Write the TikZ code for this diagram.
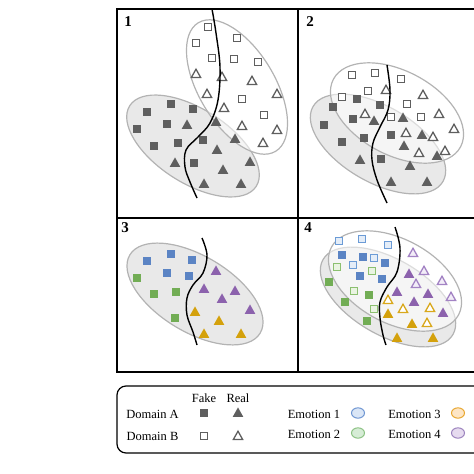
\documentclass[tikz,border=0pt]{standalone}
\usepackage{fontspec}
\setmainfont{Liberation Serif}
\definecolor{mgray}{HTML}{5F5F5F}
\definecolor{ellgray}{HTML}{E9E9E9}
\definecolor{ellline}{HTML}{B3B3B3}
\definecolor{blueF}{HTML}{5B84C4}
\definecolor{blueO}{HTML}{6B9BD6}
\definecolor{blueL}{HTML}{E4EDF8}
\definecolor{greenF}{HTML}{72AD55}
\definecolor{greenO}{HTML}{8CC070}
\definecolor{greenL}{HTML}{EAF4E2}
\definecolor{purpleF}{HTML}{8C62AD}
\definecolor{purpleO}{HTML}{A383C4}
\definecolor{purpleL}{HTML}{F3EDF8}
\definecolor{orangeF}{HTML}{D4A10C}
\definecolor{orangeO}{HTML}{D9A81C}
\definecolor{eoneF}{HTML}{DAE6F6}
\definecolor{eoneD}{HTML}{6F96D2}
\definecolor{etwoF}{HTML}{D6ECD6}
\definecolor{etwoD}{HTML}{8CC283}
\definecolor{ethreeF}{HTML}{FDE5C5}
\definecolor{ethreeD}{HTML}{E8A730}
\definecolor{efourF}{HTML}{E6DBEF}
\definecolor{efourD}{HTML}{9C83BE}
\newcommand\MySq[3]{\path[#3] (#1-4,#2-4) rectangle (#1+4,#2+4);}
\newcommand\MyOSq[3]{\path[#3] (#1-3.5,#2-3.5) rectangle (#1+3.5,#2+3.5);}
\newcommand\MyTr[3]{\path[#3] (#1,#2-5.6) -- (#1+5.3,#2+3.9) -- (#1-5.3,#2+3.9) -- cycle;}
\newcommand\MyOTr[3]{\path[#3,line join=miter] (#1,#2-4.8) -- (#1+4.6,#2+3.4) -- (#1-4.6,#2+3.4) -- cycle;}
\begin{document}
\begin{tikzpicture}[x=1pt,y=-1pt,
  grid/.style={line width=1.5pt,black},
  ellA/.style={fill=ellgray,draw=ellline,line width=1.2pt},
  ellB/.style={fill=white,fill opacity=0.55,draw=ellline,line width=1.2pt},
  sep/.style={line width=1.4pt,black},
  lab/.style={font=\bfseries\fontsize{15}{15}\selectfont,inner sep=0pt},
  txt/.style={font=\fontsize{12.5}{13}\selectfont,inner sep=0pt},
  fa/.style={fill=mgray},
  oa/.style={draw=mgray,fill=white,line width=1.3pt}]
\useasboundingbox (0,0) rectangle (474,474);
\clip (0,0) rectangle (474,474);
% ---------- grid ----------
\draw[grid] (117,9) rectangle (480,372);
\draw[grid] (298,9) -- (298,372);
\draw[grid] (117,218) -- (480,218);
% ---------- ellipses ----------
\draw[ellA, rotate around={-32.5:(193,146)}] (193,146) ellipse [x radius=75pt, y radius=37pt];
\draw[ellB, rotate around={-59:(237,87)}] (237,87) ellipse [x radius=75pt, y radius=38pt];
\draw[ellA, rotate around={-30:(378,144)}] (378,144) ellipse [x radius=75pt, y radius=38pt];
\draw[ellB, rotate around={-28:(397,113)}] (397,113) ellipse [x radius=72pt, y radius=42pt];
\draw[ellA, rotate around={-31:(195,294)}] (195,294) ellipse [x radius=76pt, y radius=38pt];
\draw[ellA, rotate around={-30:(388,297)}] (388,297) ellipse [x radius=75pt, y radius=38pt];
\draw[ellB, rotate around={-28:(395,281)}] (395,281) ellipse [x radius=72pt, y radius=42pt];
% ---------- panel labels ----------
\node[lab] (l1) at (128,22) {1};
\node[lab] (l2) at (310,22) {2};
\node[lab] (l3) at (125,228) {3};
\node[lab] (l4) at (308,228) {4};
% ---------- panel 1 ----------
\foreach \x/\y in {208/27,196/43,237/38,212/58,234/59,258/62,242/99,264/115} {\MyOSq{\x}{\y}{oa}}
\foreach \x/\y in {196/74,222/77,252/81,207/94,277/94,224/108,242/126,277/130,263/143} {\MyOTr{\x}{\y}{oa}}
\foreach \x/\y in {171/104,147/112,193/109,137/129,167/124,154/146,178/143,203/140,194/163} {\MySq{\x}{\y}{fa}}
\foreach \x/\y in {187/125,216/122,235/139,217/150,175/163,250/162,223/170,204/184,241/184} {\MyTr{\x}{\y}{fa}}
% ---------- panel 2 ----------
\foreach \x/\y in {352/75,375/73,401/79,368/91,342/97,407/104,391/117,421/117} {\MyOSq{\x}{\y}{oa}}
\foreach \x/\y in {386/90,423/95,365/114,439/114,406/133,433/137,454/129,419/153,445/151} {\MyOTr{\x}{\y}{oa}}
\foreach \x/\y in {333/107,357/99,380/105,324/125,353/119,342/142,364/138,391/135,381/159} {\MySq{\x}{\y}{fa}}
\foreach \x/\y in {374/121,403/118,422/135,404/146,360/160,437/156,410/166,391/182,427/182} {\MyTr{\x}{\y}{fa}}
% ---------- panel 3 ----------
\foreach \x/\y in {147/261,171/254,192/260,167/273,189/276} {\MySq{\x}{\y}{fill=blueF}}
\foreach \x/\y in {137/278,154/294,176/292,175/318} {\MySq{\x}{\y}{fill=greenF}}
\foreach \x/\y in {216/271,204/289,235/291,222/299,250/310} {\MyTr{\x}{\y}{fill=purpleF}}
\foreach \x/\y in {195/312,219/321,204/334,241/334} {\MyTr{\x}{\y}{fill=orangeF}}
% ---------- panel 4 ----------
\foreach \x/\y in {339/241,362/239,388/245,374/258,353/265} {\MyOSq{\x}{\y}{draw=blueO,fill=blueL,line width=1.3pt}}
\foreach \x/\y in {342/255,363/257,385/263,360/276,382/279} {\MySq{\x}{\y}{fill=blueF}}
\foreach \x/\y in {337/267,372/271,354/291,374/309} {\MyOSq{\x}{\y}{draw=greenO,fill=greenL,line width=1.3pt}}
\foreach \x/\y in {329/282,369/295,345/302,367/321} {\MySq{\x}{\y}{fill=greenF}}
\foreach \x/\y in {413/253,424/271,442/281,416/284,451/297} {\MyOTr{\x}{\y}{draw=purpleO,fill=purpleL,line width=1.3pt}}
\foreach \x/\y in {409/274,397/292,428/294,414/302,443/313} {\MyTr{\x}{\y}{fill=purpleF}}
\foreach \x/\y in {388/300,403/309,430/308,427/323} {\MyOTr{\x}{\y}{draw=orangeO,fill=white,line width=1.3pt}}
\foreach \x/\y in {388/314,412/324,397/338,433/338} {\MyTr{\x}{\y}{fill=orangeF}}
% ---------- separating curves ----------
\draw[sep] plot[smooth,tension=0.6] coordinates {(212,9) (216,33) (220,67) (218,100) (210,123) (198,137) (186,150) (185,167) (190,182) (197,198)};
\draw[sep] plot[smooth,tension=0.6] coordinates {(387,65) (390,90) (388,110) (380,127) (373,143) (372,160) (377,180) (387,203)};
\draw[sep] plot[smooth,tension=0.6] coordinates {(202,238) (207,255) (203,273) (193,285) (187,298) (187,315) (193,332) (197,345)};
\draw[sep] plot[smooth,tension=0.6] coordinates {(395,227) (400,248) (397,272) (387,287) (380,302) (380,318) (383,335) (386,345)};
% ---------- legend ----------
\draw[line width=1.2pt,rounded corners=9pt] (117,386) rectangle (490,453);
\node[txt] (fake) at (204,398) {Fake};
\node[txt] (real) at (238,398) {Real};
\node[txt] (doma) at (152.5,414) {Domain A};
\node[txt] (domb) at (152.5,436) {Domain B};
\MySq{204}{413}{fa}
\MyTr{238}{413}{fa}
\MyOSq{204}{436}{oa}
\MyOTr{238}{436}{oa}
\node[txt] (em1) at (314,414) {Emotion 1};
\node[txt] (em2) at (314,434) {Emotion 2};
\node[txt] (em3) at (414.5,414) {Emotion 3};
\node[txt] (em4) at (414.5,434) {Emotion 4};
\draw[fill=eoneF,draw=eoneD,line width=1pt] (358,413) ellipse [x radius=6.5pt, y radius=5.2pt];
\draw[fill=etwoF,draw=etwoD,line width=1pt] (358,433) ellipse [x radius=6.5pt, y radius=5.2pt];
\draw[fill=ethreeF,draw=ethreeD,line width=1pt] (458,413) ellipse [x radius=6.5pt, y radius=5.2pt];
\draw[fill=efourF,draw=efourD,line width=1pt] (458,433) ellipse [x radius=6.5pt, y radius=5.2pt];
\end{tikzpicture}
\end{document}
